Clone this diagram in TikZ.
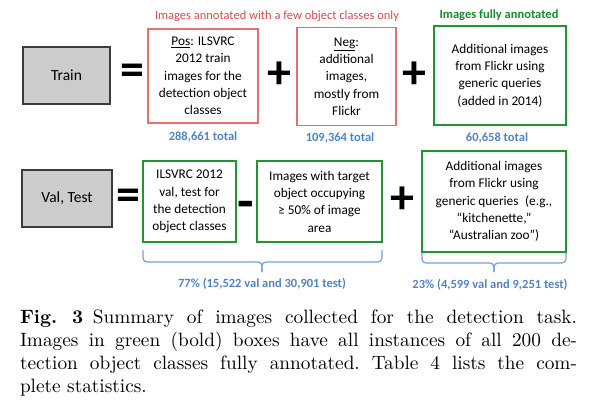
\documentclass[tikz,border=0pt]{standalone}
\usepackage{fontspec}
\newfontfamily\dg{Carlito}
\newfontfamily\capfont{lmroman10-regular.otf}[BoldFont=lmroman10-bold.otf]
\definecolor{redline}{RGB}{226,112,112}
\definecolor{redtext}{RGB}{214,78,78}
\definecolor{greenline}{RGB}{30,150,50}
\definecolor{greentext}{RGB}{25,140,45}
\definecolor{bluetext}{RGB}{82,132,196}
\definecolor{braceblue}{RGB}{120,160,210}
\definecolor{boxgray}{RGB}{204,204,204}
\definecolor{boxedge}{RGB}{60,60,60}
\begin{document}
\begin{tikzpicture}[x=1pt,y=-1pt,
  every node/.style={inner sep=0pt,outer sep=0pt},
  txt/.style={font=\dg\fontsize{13.3}{17.3}\selectfont,align=center},
  graybox/.style={draw=boxedge,fill=boxgray,line width=1.3pt,font=\dg\fontsize{15.5}{18}\selectfont},
  redbox/.style={txt,draw=redline,line width=1.3pt},
  greenbox/.style={txt,draw=greenline,line width=2.3pt},
  opsym/.style={font=\dg\bfseries\fontsize{48}{48}\selectfont},
  total/.style={font=\dg\bfseries\fontsize{12.5}{14}\selectfont,text=bluetext},
  header/.style={font=\dg\fontsize{12.5}{14}\selectfont},
  bracestyle/.style={draw=braceblue,line width=1.2pt,rounded corners=4pt}]
\useasboundingbox (0,0) rectangle (593,410);

% Row 1
\node[graybox,minimum width=87pt,minimum height=57pt] (train) at (66.5,75.5) {Train};
\node[opsym] (eq1) at (132,75) {=};
\node[redbox,minimum width=110pt,minimum height=94pt] (pos) at (203,76)
  {\underline{Pos}: ILSVRC\\2012 train\\images for the\\detection object\\classes};
\node[opsym] (plus1) at (279,75) {+};
\node[redbox,minimum width=99pt,minimum height=98pt] (neg) at (346.5,76.5)
  {\underline{Neg}:\\additional\\images,\\mostly from\\Flickr};
\node[opsym] (plus2) at (414,75) {+};
\node[greenbox,minimum width=132pt,minimum height=99pt] (add1) at (500,75.5)
  {Additional images\\from Flickr using\\generic queries\\(added in 2014)};
\node[header,text=redtext] (hred) at (277,16) {Images annotated with a few object classes only};
\node[header,text=greentext,font=\dg\bfseries\fontsize{12.5}{14}\selectfont] (hgreen) at (499,15) {Images fully annotated};
\node[total] (t1) at (203,137) {288,661 total};
\node[total] (t2) at (340,138) {109,364 total};
\node[total] (t3) at (497,138) {60,658 total};

% Row 2
\node[graybox,minimum width=90pt,minimum height=57pt] (vt) at (67,198.5) {Val, Test};
\node[opsym] (eq2) at (128,200) {=};
\node[greenbox,minimum width=93pt,minimum height=81pt] (va) at (189.5,201.5)
  {ILSVRC 2012\\val, test for\\the detection\\object classes};
\node[opsym,font=\dg\bfseries\fontsize{54}{54}\selectfont] (minus) at (246,210) {-};
\node[greenbox,minimum width=125pt,minimum height=81pt] (vb) at (319.5,201.5)
  {Images with target\\object occupying\\≥ 50\% of image\\area};
\node[opsym] (plus3) at (402,200) {+};
\node[greenbox,minimum width=144pt,minimum height=101pt] (vc) at (494,201.5)
  {Additional images\\from Flickr using\\generic queries\enspace(e.g.,\\“kitchenette,”\\“Australian zoo”)};

% Braces
\coordinate (b1l) at ([yshift=-8pt]va.south west);
\coordinate (b1r) at ([yshift=-8pt]vb.south east);
\coordinate (b1m) at (262,272);
\draw[bracestyle] (b1l) |- (262,262) -- (b1m);
\draw[bracestyle] (b1r) |- (262,262) -- (b1m);
\coordinate (b2l) at ([yshift=-1pt]vc.south west);
\coordinate (b2r) at ([yshift=-1pt]vc.south east);
\coordinate (b2m) at (494,272);
\draw[bracestyle] (b2l) |- (494,263) -- (b2m);
\draw[bracestyle] (b2r) |- (494,263) -- (b2m);
\node[total] (p1) at (262,284) {77\% (15,522 val and 30,901 test)};
\node[total] (p2) at (490,285) {23\% (4,599 val and 9,251 test)};

% Caption
\node[anchor=north west,text width=557pt,align=justify,font=\capfont\fontsize{19.3}{23}\selectfont] (cap) at (20,310)
  {\frenchspacing\textbf{Fig.~3}\enspace Summary of images collected for the detection task.\linebreak
   Images in green (bold) boxes have all instances of all 200 de-\linebreak
   tection object classes fully annotated. Table 4 lists the com-\linebreak
   plete statistics.};
\end{tikzpicture}
\end{document}
